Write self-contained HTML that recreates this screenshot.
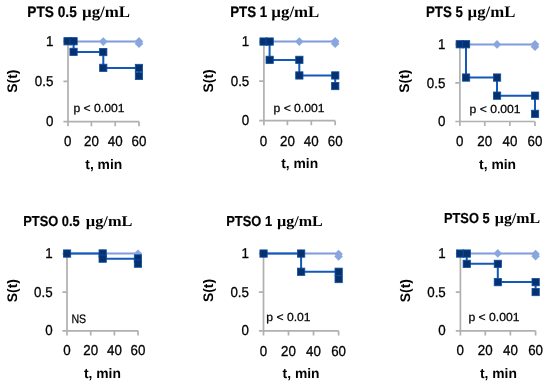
<!DOCTYPE html>
<html><head><meta charset="utf-8"><style>
html,body{margin:0;padding:0;background:#fff;}
svg{display:block;will-change:transform;filter:blur(0.3px);}
text{font-family:"Liberation Sans",sans-serif;fill:#000;text-rendering:geometricPrecision;}
.tk{font-size:14.35px;stroke:#000;stroke-width:0.3px;}
.pv{font-size:11.7px;stroke:#000;stroke-width:0.25px;}
.bd{font-size:13.85px;font-weight:bold;}
.tt{font-weight:bold;stroke:#000;stroke-width:0.2px;}
.ts{font-family:"Liberation Serif",serif;font-weight:bold;}
</style></head><body>
<svg width="550" height="386" viewBox="0 0 550 386">
<rect width="550" height="386" fill="#fff"/>
<path d="M68.0 41.3V126.2M63.4 121.6H139.0" stroke="#b0b0b0" stroke-width="1.7" fill="none"/>
<path d="M91.4 121.6v4.6M115.2 121.6v4.6M139.0 121.6v4.6M63.4 41.3H68.0M63.4 81.4H68.0" stroke="#b0b0b0" stroke-width="1.7" fill="none"/>
<path d="M67.6 41.6H139.0V43.8" stroke="#7f9cdb" stroke-width="2" fill="none"/>
<path d="M103.3 37.3L107.6 41.6L103.3 45.9L99.0 41.6Z" fill="#8aa6de"/>
<path d="M139.0 37.1L143.3 41.4L139.0 45.7L134.7 41.4Z" fill="#8aa6de"/>
<path d="M139.0 39.5L143.3 43.8L139.0 48.1L134.7 43.8Z" fill="#8aa6de"/>
<path d="M67.6 41.3H73.6V51.9H103.3V52.0V67.9H139.0V68.0V76.0" stroke="#1259b8" stroke-width="2" fill="none"/>
<rect x="63.9" y="37.6" width="7.3" height="7.3" fill="#07316c" stroke="#0b4ea8" stroke-width="0.8"/>
<rect x="69.9" y="37.6" width="7.3" height="7.3" fill="#07316c" stroke="#0b4ea8" stroke-width="0.8"/>
<rect x="69.9" y="48.2" width="7.3" height="7.3" fill="#07316c" stroke="#0b4ea8" stroke-width="0.8"/>
<rect x="99.6" y="48.4" width="7.3" height="7.3" fill="#07316c" stroke="#0b4ea8" stroke-width="0.8"/>
<rect x="99.6" y="64.2" width="7.3" height="7.3" fill="#07316c" stroke="#0b4ea8" stroke-width="0.8"/>
<rect x="135.3" y="64.3" width="7.3" height="7.3" fill="#07316c" stroke="#0b4ea8" stroke-width="0.8"/>
<rect x="135.3" y="72.3" width="7.3" height="7.3" fill="#07316c" stroke="#0b4ea8" stroke-width="0.8"/>
<text transform="translate(53.40 45.90) scale(0.93 1)" text-anchor="end" class="tk">1</text>
<text transform="translate(53.40 86.05) scale(0.93 1)" text-anchor="end" class="tk">0.5</text>
<text transform="translate(53.40 126.20) scale(0.93 1)" text-anchor="end" class="tk">0</text>
<text transform="translate(67.60 146.20) scale(0.93 1)" text-anchor="middle" class="tk">0</text>
<text transform="translate(91.40 146.20) scale(0.93 1)" text-anchor="middle" class="tk">20</text>
<text transform="translate(115.20 146.20) scale(0.93 1)" text-anchor="middle" class="tk">40</text>
<text transform="translate(139.00 146.20) scale(0.93 1)" text-anchor="middle" class="tk">60</text>
<text transform="translate(73.40 111.90) scale(1.04 1)" class="pv">p < 0.001</text>
<text x="85.30" y="169.10" class="bd">t, min</text>
<text transform="translate(17.20 81.10) rotate(-90)" text-anchor="middle" class="bd">S(t)</text>
<text transform="translate(27.31 16.70) scale(0.8899 1)" class="tt" style="font-size:15.4px">PTS 0.5</text>
<text transform="translate(81.90 16.70) scale(1.055 1)" class="ts" style="font-size:16.0px">µg/mL</text>
<path d="M263.9 41.5V125.3M259.2 120.7H335.2" stroke="#b0b0b0" stroke-width="1.7" fill="none"/>
<path d="M287.4 120.7v4.6M311.3 120.7v4.6M335.2 120.7v4.6M259.2 41.5H263.9M259.2 81.1H263.9" stroke="#b0b0b0" stroke-width="1.7" fill="none"/>
<path d="M263.5 41.6H335.2V43.8" stroke="#7f9cdb" stroke-width="2" fill="none"/>
<path d="M299.3 37.3L303.6 41.6L299.3 45.9L295.0 41.6Z" fill="#8aa6de"/>
<path d="M335.2 37.0L339.5 41.3L335.2 45.6L330.9 41.3Z" fill="#8aa6de"/>
<path d="M335.2 39.5L339.5 43.8L335.2 48.1L330.9 43.8Z" fill="#8aa6de"/>
<path d="M263.5 41.5H269.6V59.9H299.3V75.5H335.2V86.1" stroke="#1259b8" stroke-width="2" fill="none"/>
<rect x="259.9" y="37.9" width="7.3" height="7.3" fill="#07316c" stroke="#0b4ea8" stroke-width="0.8"/>
<rect x="266.0" y="37.9" width="7.3" height="7.3" fill="#07316c" stroke="#0b4ea8" stroke-width="0.8"/>
<rect x="266.0" y="56.2" width="7.3" height="7.3" fill="#07316c" stroke="#0b4ea8" stroke-width="0.8"/>
<rect x="295.7" y="56.2" width="7.3" height="7.3" fill="#07316c" stroke="#0b4ea8" stroke-width="0.8"/>
<rect x="295.7" y="71.8" width="7.3" height="7.3" fill="#07316c" stroke="#0b4ea8" stroke-width="0.8"/>
<rect x="331.6" y="71.8" width="7.3" height="7.3" fill="#07316c" stroke="#0b4ea8" stroke-width="0.8"/>
<rect x="331.6" y="82.4" width="7.3" height="7.3" fill="#07316c" stroke="#0b4ea8" stroke-width="0.8"/>
<text transform="translate(249.30 46.10) scale(0.93 1)" text-anchor="end" class="tk">1</text>
<text transform="translate(249.30 85.70) scale(0.93 1)" text-anchor="end" class="tk">0.5</text>
<text transform="translate(249.30 125.30) scale(0.93 1)" text-anchor="end" class="tk">0</text>
<text transform="translate(263.50 145.70) scale(0.93 1)" text-anchor="middle" class="tk">0</text>
<text transform="translate(287.40 145.70) scale(0.93 1)" text-anchor="middle" class="tk">20</text>
<text transform="translate(311.30 145.70) scale(0.93 1)" text-anchor="middle" class="tk">40</text>
<text transform="translate(335.20 145.70) scale(0.93 1)" text-anchor="middle" class="tk">60</text>
<text transform="translate(273.50 111.80) scale(1.04 1)" class="pv">p < 0.001</text>
<text x="281.20" y="168.00" class="bd">t, min</text>
<text transform="translate(213.10 80.90) rotate(-90)" text-anchor="middle" class="bd">S(t)</text>
<text transform="translate(230.13 16.55) scale(0.8649 1)" class="tt" style="font-size:15.4px">PTS 1</text>
<text transform="translate(271.30 16.55) scale(1.05 1)" class="ts" style="font-size:16.0px">µg/mL</text>
<path d="M459.9 44.3V126.1M455.3 121.5H535.0" stroke="#b0b0b0" stroke-width="1.7" fill="none"/>
<path d="M484.8 121.5v4.6M509.9 121.5v4.6M535.0 121.5v4.6M455.3 44.3H459.9M455.3 82.9H459.9" stroke="#b0b0b0" stroke-width="1.7" fill="none"/>
<path d="M459.7 44.4H535.0V46.8" stroke="#7f9cdb" stroke-width="2" fill="none"/>
<path d="M497.0 40.1L501.3 44.4L497.0 48.7L492.7 44.4Z" fill="#8aa6de"/>
<path d="M535.0 39.9L539.3 44.2L535.0 48.5L530.7 44.2Z" fill="#8aa6de"/>
<path d="M535.0 42.5L539.3 46.8L535.0 51.1L530.7 46.8Z" fill="#8aa6de"/>
<path d="M459.7 44.3H466.0V77.6H497.0V95.7H535.0V113.9" stroke="#1259b8" stroke-width="2" fill="none"/>
<rect x="456.1" y="40.6" width="7.3" height="7.3" fill="#07316c" stroke="#0b4ea8" stroke-width="0.8"/>
<rect x="462.4" y="40.6" width="7.3" height="7.3" fill="#07316c" stroke="#0b4ea8" stroke-width="0.8"/>
<rect x="462.4" y="73.9" width="7.3" height="7.3" fill="#07316c" stroke="#0b4ea8" stroke-width="0.8"/>
<rect x="493.4" y="73.9" width="7.3" height="7.3" fill="#07316c" stroke="#0b4ea8" stroke-width="0.8"/>
<rect x="493.4" y="92.0" width="7.3" height="7.3" fill="#07316c" stroke="#0b4ea8" stroke-width="0.8"/>
<rect x="531.4" y="92.0" width="7.3" height="7.3" fill="#07316c" stroke="#0b4ea8" stroke-width="0.8"/>
<rect x="531.4" y="110.2" width="7.3" height="7.3" fill="#07316c" stroke="#0b4ea8" stroke-width="0.8"/>
<text transform="translate(445.40 48.90) scale(0.93 1)" text-anchor="end" class="tk">1</text>
<text transform="translate(445.40 87.50) scale(0.93 1)" text-anchor="end" class="tk">0.5</text>
<text transform="translate(445.40 126.10) scale(0.93 1)" text-anchor="end" class="tk">0</text>
<text transform="translate(459.70 146.40) scale(0.93 1)" text-anchor="middle" class="tk">0</text>
<text transform="translate(484.80 146.40) scale(0.93 1)" text-anchor="middle" class="tk">20</text>
<text transform="translate(509.90 146.40) scale(0.93 1)" text-anchor="middle" class="tk">40</text>
<text transform="translate(535.00 146.40) scale(0.93 1)" text-anchor="middle" class="tk">60</text>
<text transform="translate(469.60 113.40) scale(1.04 1)" class="pv">p < 0.001</text>
<text x="479.10" y="169.00" class="bd">t, min</text>
<text transform="translate(408.90 81.10) rotate(-90)" text-anchor="middle" class="bd">S(t)</text>
<text transform="translate(425.94 16.90) scale(0.863 1)" class="tt" style="font-size:15.4px">PTS 5</text>
<text transform="translate(467.60 16.90) scale(1.045 1)" class="ts" style="font-size:16.0px">µg/mL</text>
<path d="M67.0 253.6V335.4M62.4 330.8H138.0" stroke="#b0b0b0" stroke-width="1.7" fill="none"/>
<path d="M90.7 330.8v4.6M114.4 330.8v4.6M138.0 330.8v4.6M62.4 253.6H67.0M62.4 292.2H67.0" stroke="#b0b0b0" stroke-width="1.7" fill="none"/>
<path d="M67.0 253.6H138.0" stroke="#7f9cdb" stroke-width="2" fill="none"/>
<path d="M67.0 249.3L71.3 253.6L67.0 257.9L62.7 253.6Z" fill="#8aa6de"/>
<path d="M102.7 249.3L107.0 253.6L102.7 257.9L98.4 253.6Z" fill="#8aa6de"/>
<path d="M138.0 249.4L142.3 253.7L138.0 258.0L133.7 253.7Z" fill="#8aa6de"/>
<path d="M67.0 253.6H102.7V253.5V258.7H138.0V258.5V263.6" stroke="#1259b8" stroke-width="2" fill="none"/>
<rect x="63.4" y="249.9" width="7.3" height="7.3" fill="#07316c" stroke="#0b4ea8" stroke-width="0.8"/>
<rect x="99.0" y="249.8" width="7.3" height="7.3" fill="#07316c" stroke="#0b4ea8" stroke-width="0.8"/>
<rect x="99.0" y="255.0" width="7.3" height="7.3" fill="#07316c" stroke="#0b4ea8" stroke-width="0.8"/>
<rect x="134.3" y="254.8" width="7.3" height="7.3" fill="#07316c" stroke="#0b4ea8" stroke-width="0.8"/>
<rect x="134.3" y="260.0" width="7.3" height="7.3" fill="#07316c" stroke="#0b4ea8" stroke-width="0.8"/>
<text transform="translate(52.60 258.20) scale(0.93 1)" text-anchor="end" class="tk">1</text>
<text transform="translate(52.60 296.80) scale(0.93 1)" text-anchor="end" class="tk">0.5</text>
<text transform="translate(52.60 335.40) scale(0.93 1)" text-anchor="end" class="tk">0</text>
<text transform="translate(67.00 355.20) scale(0.93 1)" text-anchor="middle" class="tk">0</text>
<text transform="translate(90.70 355.20) scale(0.93 1)" text-anchor="middle" class="tk">20</text>
<text transform="translate(114.40 355.20) scale(0.93 1)" text-anchor="middle" class="tk">40</text>
<text transform="translate(138.00 355.20) scale(0.93 1)" text-anchor="middle" class="tk">60</text>
<text transform="translate(71.40 322.60) scale(0.86 1)" class="pv" style="font-size:12.3px">NS</text>
<text x="84.00" y="378.30" class="bd">t, min</text>
<text transform="translate(16.80 290.60) rotate(-90)" text-anchor="middle" class="bd">S(t)</text>
<text transform="translate(23.26 225.70) scale(0.8929 1)" class="tt" style="font-size:14.4px">PTSO 0.5</text>
<text transform="translate(85.81 225.70) scale(1.088 1)" class="ts" style="font-size:15.0px">µg/mL</text>
<path d="M263.5 253.6V335.4M258.9 330.8H338.6" stroke="#b0b0b0" stroke-width="1.7" fill="none"/>
<path d="M288.5 330.8v4.6M313.5 330.8v4.6M338.6 330.8v4.6M258.9 253.6H263.5M258.9 292.2H263.5" stroke="#b0b0b0" stroke-width="1.7" fill="none"/>
<path d="M263.5 253.4H338.6V256.5" stroke="#7f9cdb" stroke-width="2" fill="none"/>
<path d="M301.1 249.3L305.4 253.6L301.1 257.9L296.8 253.6Z" fill="#8aa6de"/>
<path d="M338.6 249.8L342.9 254.1L338.6 258.4L334.3 254.1Z" fill="#8aa6de"/>
<path d="M338.6 252.2L342.9 256.5L338.6 260.8L334.3 256.5Z" fill="#8aa6de"/>
<path d="M263.5 253.6H301.1V271.7H338.6V279.0" stroke="#1259b8" stroke-width="2" fill="none"/>
<rect x="259.9" y="249.9" width="7.3" height="7.3" fill="#07316c" stroke="#0b4ea8" stroke-width="0.8"/>
<rect x="297.5" y="249.9" width="7.3" height="7.3" fill="#07316c" stroke="#0b4ea8" stroke-width="0.8"/>
<rect x="297.5" y="268.1" width="7.3" height="7.3" fill="#07316c" stroke="#0b4ea8" stroke-width="0.8"/>
<rect x="335.0" y="268.1" width="7.3" height="7.3" fill="#07316c" stroke="#0b4ea8" stroke-width="0.8"/>
<rect x="335.0" y="275.4" width="7.3" height="7.3" fill="#07316c" stroke="#0b4ea8" stroke-width="0.8"/>
<text transform="translate(249.00 258.20) scale(0.93 1)" text-anchor="end" class="tk">1</text>
<text transform="translate(249.00 296.80) scale(0.93 1)" text-anchor="end" class="tk">0.5</text>
<text transform="translate(249.00 335.40) scale(0.93 1)" text-anchor="end" class="tk">0</text>
<text transform="translate(263.50 356.00) scale(0.93 1)" text-anchor="middle" class="tk">0</text>
<text transform="translate(288.50 356.00) scale(0.93 1)" text-anchor="middle" class="tk">20</text>
<text transform="translate(313.50 356.00) scale(0.93 1)" text-anchor="middle" class="tk">40</text>
<text transform="translate(338.60 356.00) scale(0.93 1)" text-anchor="middle" class="tk">60</text>
<text transform="translate(266.30 320.90) scale(1.04 1)" class="pv">p < 0.01</text>
<text x="282.60" y="378.40" class="bd">t, min</text>
<text transform="translate(213.10 290.45) rotate(-90)" text-anchor="middle" class="bd">S(t)</text>
<text transform="translate(226.26 225.70) scale(0.8958 1)" class="tt" style="font-size:14.4px">PTSO 1</text>
<text transform="translate(276.91 225.70) scale(1.071 1)" class="ts" style="font-size:15.0px">µg/mL</text>
<path d="M460.4 253.6V335.4M455.8 330.8H535.6" stroke="#b0b0b0" stroke-width="1.7" fill="none"/>
<path d="M485.3 330.8v4.6M510.4 330.8v4.6M535.6 330.8v4.6M455.8 253.6H460.4M455.8 292.2H460.4" stroke="#b0b0b0" stroke-width="1.7" fill="none"/>
<path d="M460.1 253.4H535.6V256.3" stroke="#7f9cdb" stroke-width="2" fill="none"/>
<path d="M497.8 249.1L502.1 253.4L497.8 257.7L493.5 253.4Z" fill="#8aa6de"/>
<path d="M535.6 249.7L539.9 254.0L535.6 258.3L531.3 254.0Z" fill="#8aa6de"/>
<path d="M535.6 252.0L539.9 256.3L535.6 260.6L531.3 256.3Z" fill="#8aa6de"/>
<path d="M460.1 253.6H466.7V263.8H497.8V282.1H535.6V292.0" stroke="#1259b8" stroke-width="2" fill="none"/>
<rect x="456.5" y="249.9" width="7.3" height="7.3" fill="#07316c" stroke="#0b4ea8" stroke-width="0.8"/>
<rect x="463.1" y="249.9" width="7.3" height="7.3" fill="#07316c" stroke="#0b4ea8" stroke-width="0.8"/>
<rect x="463.1" y="260.2" width="7.3" height="7.3" fill="#07316c" stroke="#0b4ea8" stroke-width="0.8"/>
<rect x="494.2" y="260.2" width="7.3" height="7.3" fill="#07316c" stroke="#0b4ea8" stroke-width="0.8"/>
<rect x="494.2" y="278.5" width="7.3" height="7.3" fill="#07316c" stroke="#0b4ea8" stroke-width="0.8"/>
<rect x="532.0" y="278.5" width="7.3" height="7.3" fill="#07316c" stroke="#0b4ea8" stroke-width="0.8"/>
<rect x="532.0" y="288.4" width="7.3" height="7.3" fill="#07316c" stroke="#0b4ea8" stroke-width="0.8"/>
<text transform="translate(445.80 258.20) scale(0.93 1)" text-anchor="end" class="tk">1</text>
<text transform="translate(445.80 296.80) scale(0.93 1)" text-anchor="end" class="tk">0.5</text>
<text transform="translate(445.80 335.40) scale(0.93 1)" text-anchor="end" class="tk">0</text>
<text transform="translate(460.10 355.20) scale(0.93 1)" text-anchor="middle" class="tk">0</text>
<text transform="translate(485.30 355.20) scale(0.93 1)" text-anchor="middle" class="tk">20</text>
<text transform="translate(510.40 355.20) scale(0.93 1)" text-anchor="middle" class="tk">40</text>
<text transform="translate(535.60 355.20) scale(0.93 1)" text-anchor="middle" class="tk">60</text>
<text transform="translate(468.40 320.90) scale(1.04 1)" class="pv">p < 0.001</text>
<text x="480.00" y="378.20" class="bd">t, min</text>
<text transform="translate(409.50 290.60) rotate(-90)" text-anchor="middle" class="bd">S(t)</text>
<text transform="translate(443.97 222.90) scale(0.8919 1)" class="tt" style="font-size:14.4px">PTSO 5</text>
<text transform="translate(494.71 222.90) scale(1.062 1)" class="ts" style="font-size:15.0px">µg/mL</text>
</svg>
</body></html>
